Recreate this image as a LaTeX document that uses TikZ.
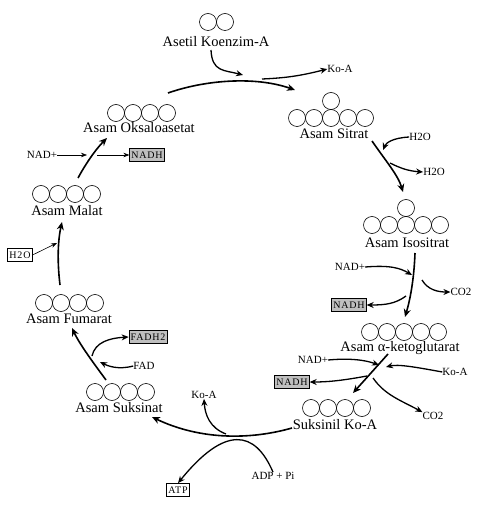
\documentclass[tikz,border=0pt]{standalone}
\usepackage{fontspec}
\setmainfont{Liberation Serif}
\newfontfamily\boxfont[LetterSpace=8]{Liberation Serif}
\usetikzlibrary{arrows.meta}

\tikzset{
  lbl/.style={font=\fontsize{14.5}{15}\selectfont, inner sep=0pt, anchor=base},
  sml/.style={font=\fontsize{11}{12}\selectfont, inner sep=0pt},
  boxg/.style={draw, fill=black!25, font=\boxfont\fontsize{10}{12}\selectfont, inner xsep=1.8pt, inner ysep=3pt, text height=7pt, text depth=0.3pt},
  boxw/.style={boxg, fill=white},
  flow/.style={line width=1.6pt, -{Stealth[length=8pt,width=7pt]}},
  side/.style={line width=1.3pt, -{Stealth[length=7pt,width=6pt]}},
  thinarr/.style={line width=0.6pt, -{Stealth[length=6pt,width=4.5pt]}},
  carbon/.style={line width=0.6pt}
}
\newcommand{\chain}[3]{\foreach \k in {1,...,#3}{\draw[carbon] ({#1+(\k-1)*17},#2) circle[radius=8.5pt];}}

\begin{document}
\begin{tikzpicture}[x=1pt, y=-1pt]
  \useasboundingbox[fill=white] (0,0) rectangle (487,518);

  % carbon chains
  \chain{208}{22}{2}
  \chain{116}{113}{4}
  \chain{297}{118}{5} \draw[carbon] (331,101) circle[radius=8.5pt];
  \chain{372}{225}{5} \draw[carbon] (406,208) circle[radius=8.5pt];
  \chain{370}{332}{5}
  \chain{311}{408}{4}
  \chain{95}{392}{4}
  \chain{44}{303}{4}
  \chain{41}{194}{4}

  % compounds
  \node[lbl] (asetil)    at (216,47)  {Asetil Koenzim-A};
  \node[lbl] (oksalo)    at (139,133) {Asam Oksaloasetat};
  \node[lbl] (sitrat)    at (334,139) {Asam Sitrat};
  \node[lbl] (isositrat) at (407,247) {Asam Isositrat};
  \node[lbl] (ketoglu)   at (400,351) {Asam α-ketoglutarat};
  \node[lbl] (suksinil)  at (335,429) {Suksinil Ko-A};
  \node[lbl] (suksinat)  at (119,412) {Asam Suksinat};
  \node[lbl] (fumarat)   at (69,323)  {Asam Fumarat};
  \node[lbl] (malat)     at (67,215)  {Asam Malat};

  % side products
  \node[sml] (koa1)  at (340,69)  {Ko-A};
  \node[sml] (h2oa)  at (420,137) {H2O};
  \node[sml] (h2ob)  at (434,172) {H2O};
  \node[sml] (nad1)  at (350,267) {NAD+};
  \node[sml] (co2a)  at (461,292) {CO2};
  \node[boxg] (nadh1) at (349,305) {NADH};
  \node[sml] (nad2)  at (313,360) {NAD+};
  \node[sml] (koa2)  at (455,372) {Ko-A};
  \node[boxg] (nadh2) at (292,382) {NADH};
  \node[sml] (co2b)  at (433,416) {CO2};
  \node[sml] (koa3)  at (204,395) {Ko-A};
  \node[sml] (adp)   at (273,476) {ADP + Pi};
  \node[boxw] (atp)  at (178,490) {ATP};
  \node[sml] (fad)   at (144,366) {FAD};
  \node[boxg] (fadh) at (148,337) {FADH2};
  \node[boxw] (h2oc) at (20,255)  {H2O};
  \node[sml] (nad3)  at (42,155)  {NAD+};
  \node[boxg] (nadh3) at (147,155) {NADH};

  % cycle
  \coordinate (a1) at (211,50);   \coordinate (a2) at (243,75);
  \coordinate (t1) at (168,93);   \coordinate (t2) at (295,90);
  \coordinate (k1) at (262,79);
  \draw[side] (a1) .. controls (212,72) and (224,70) .. (a2);
  \draw[flow] (t1) .. controls (205,80) and (255,76) .. (t2);
  \draw[side] (k1) .. controls (285,78) and (300,76) .. (koa1.west);

  \coordinate (s1) at (372,141);  \coordinate (s2) at (403,192);
  \draw[flow] (s1) .. controls (385,160) and (398,175) .. (s2);
  \draw[side] (h2oa.west) .. controls (392,138) and (386,143) .. (383,150);
  \draw[side] (390,163) .. controls (400,168) and (408,171) .. (h2ob.west);

  \coordinate (i1) at (415,253);  \coordinate (i2) at (405,317);
  \draw[flow] (i1) .. controls (414,280) and (410,300) .. (i2);
  \draw[side] (nad1.east) .. controls (390,265) and (400,268) .. (412,275);
  \draw[side] (422,280) .. controls (428,290) and (438,292) .. (co2a.west);
  \draw[side] (406,296) .. controls (395,304) and (385,305) .. (nadh1.east);

  \coordinate (g1) at (388,354);  \coordinate (g2) at (353,393);
  \draw[flow] (g1) -- (g2);
  \draw[side] (nad2.east) .. controls (350,358) and (365,360) .. (379,365);
  \draw[side] (koa2.west) .. controls (415,367) and (398,364) .. (386,367);
  \draw[side] (367,376) .. controls (345,380) and (330,382) .. (nadh2.east);
  \draw[side] (373,378) .. controls (385,395) and (400,400) .. (co2b.north west);

  \coordinate (u1) at (292,428);  \coordinate (u2) at (152,417);
  \draw[flow] (u1) .. controls (250,440) and (200,440) .. (u2);
  \draw[side] (226,434) .. controls (210,428) and (205,415) .. (koa3.south);
  \draw[side] (adp.north) .. controls (255,430) and (225,425) .. (atp.north);

  \coordinate (f1) at (106,380);  \coordinate (f2) at (72,328);
  \draw[flow] (f1) .. controls (95,365) and (80,345) .. (f2);
  \draw[side] (fad.west) .. controls (118,370) and (108,366) .. (100,362);
  \draw[side] (92,356) .. controls (95,342) and (110,338) .. (fadh.west);

  \coordinate (m1) at (60,285);   \coordinate (m2) at (62,222);
  \draw[flow] (m1) .. controls (57,260) and (58,240) .. (m2);
  \draw[thinarr] (h2oc.east) -- (57,243);

  \coordinate (o1) at (78,178);   \coordinate (o2) at (107,138);
  \draw[flow] (o1) .. controls (85,165) and (95,150) .. (o2);
  \draw[thinarr] (nad3.east) -- (87,155);
  \draw[thinarr] (97,155) -- (nadh3.west);
\end{tikzpicture}
\end{document}
